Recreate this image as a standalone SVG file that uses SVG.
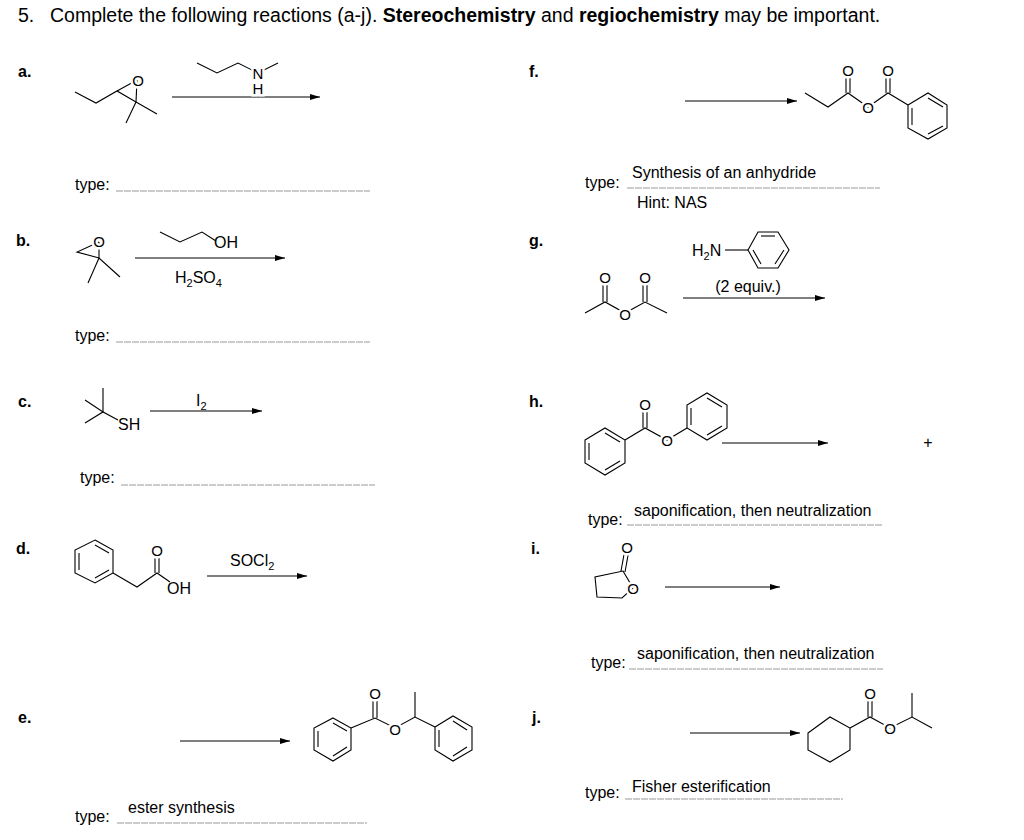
<svg xmlns="http://www.w3.org/2000/svg" width="1024" height="840" viewBox="0 0 1024 840">
<style>
text{font-family:"Liberation Sans",Arial,sans-serif;font-size:16px;fill:#000}
.t{font-size:19.5px}
.lab{font-weight:bold;font-size:16px}
.atom{font-size:15px;text-anchor:middle;dominant-baseline:central;stroke:#fff;stroke-width:5;paint-order:stroke}
.sub{font-size:11px}
.b{stroke:#000;stroke-width:1.1;fill:none}
.u{stroke:#999;stroke-width:1;stroke-dasharray:7 1}
.ar{stroke:#000;stroke-width:1.1;marker-end:url(#ah)}
</style>
<defs><marker id="ah" markerWidth="10" markerHeight="6" refX="10" refY="3" orient="auto" markerUnits="userSpaceOnUse"><path d="M0,0 L10,3 L0,6 z"/></marker></defs>
<rect width="1024" height="840" fill="#fff"/>
<text class="t" x="18" y="22">5.<tspan x="50">Complete the following reactions (a-j). </tspan><tspan font-weight="bold">Stereochemistry</tspan> and <tspan font-weight="bold">regiochemistry</tspan> may be important.</text>
<g id="labels">
<text class="lab" x="18" y="77">a.</text><text class="lab" x="16" y="246">b.</text><text class="lab" x="18" y="407">c.</text><text class="lab" x="16" y="554">d.</text><text class="lab" x="18" y="723">e.</text>
<text class="lab" x="529" y="77">f.</text><text class="lab" x="529" y="246">g.</text><text class="lab" x="529" y="407">h.</text><text class="lab" x="531" y="554">i.</text><text class="lab" x="532" y="723">j.</text>
</g>
<g id="connectors">
<line class="ar" x1="172" y1="97" x2="320" y2="97"/>
<line class="ar" x1="135" y1="258" x2="285" y2="258"/>
<line class="ar" x1="150" y1="411" x2="262" y2="411"/>
<line class="ar" x1="207" y1="576" x2="307" y2="576"/>
<line class="ar" x1="180" y1="741" x2="290" y2="741"/>
<line class="ar" x1="685" y1="101" x2="797" y2="101"/>
<line class="ar" x1="683" y1="298" x2="825" y2="298"/>
<line class="ar" x1="722" y1="443" x2="828" y2="443"/>
<line class="ar" x1="665" y1="587" x2="780" y2="587"/>
<line class="ar" x1="690" y1="733" x2="800" y2="733"/>
</g>
<g id="types">
<text x="75" y="190">type:</text><line class="u" x1="116" y1="191" x2="370" y2="191"/>
<text x="75" y="341">type:</text><line class="u" x1="116" y1="342" x2="370" y2="342"/>
<text x="80" y="483">type:</text><line class="u" x1="121" y1="485" x2="375" y2="485"/>
<text x="75" y="822">type:</text><text x="128" y="813">ester synthesis</text><line class="u" x1="117" y1="823" x2="367" y2="823"/>
<text x="585" y="188">type:</text><text x="632" y="178">Synthesis of an anhydride</text><line class="u" x1="627" y1="188" x2="880" y2="188"/><text x="637" y="208">Hint: NAS</text>
<text x="588" y="525">type:</text><text x="634" y="516">saponification, then neutralization</text><line class="u" x1="627" y1="525" x2="882" y2="525"/>
<text x="591" y="668">type:</text><text x="637" y="659">saponification, then neutralization</text><line class="u" x1="629" y1="669" x2="883" y2="669"/>
<text x="585" y="798">type:</text><text x="632" y="792">Fisher esterification</text><line class="u" x1="625" y1="799" x2="843" y2="799"/>
</g>
<g id="a">
<polyline class="b" points="75,92 96,103 117,91 136,102 157,114"/><line class="b" x1="136" y1="102" x2="126" y2="123"/>
<line class="b" x1="117" y1="91" x2="137" y2="80"/><line class="b" x1="137" y1="80" x2="136" y2="102"/>
<text class="atom" x="138" y="80">O</text>
<polyline class="b" points="197,63 217,73 238,63 258,73 278,63"/>
<text class="atom" x="258" y="73">N</text><text class="atom" x="258" y="88">H</text>
</g>
<g id="b">
<polyline class="b" points="99,242 77,252 99,258 120,277"/><line class="b" x1="99" y1="242" x2="99" y2="258"/><line class="b" x1="99" y1="258" x2="88" y2="283"/>
<text class="atom" x="99" y="241">O</text>
<polyline class="b" points="160,232 180,242 202,232 216,241"/>
<text x="214" y="248">OH</text>
<text x="175" y="283">H<tspan class="sub" dy="4">2</tspan><tspan dy="-4">SO</tspan><tspan class="sub" dy="4">4</tspan></text>
</g>
<g id="c">
<polyline class="b" points="103,388 103,412 85,400"/><polyline class="b" points="85,423 103,412 118,420"/>
<text x="118" y="430">SH</text>
<text x="196" y="406">I<tspan class="sub" dy="4">2</tspan></text>
</g>
<g id="d">
<polygon class="b" points="95,540 113,550 113,573 95,583 75,573 75,550"/>
<polyline class="b" points="95,545 109,553"/><line class="b" x1="109" y1="570" x2="95" y2="578"/><line class="b" x1="79" y1="553" x2="79" y2="570"/>
<polyline class="b" points="113,573 137,587 157,573 170,582"/>
<line class="b" x1="155" y1="573" x2="155" y2="553"/><line class="b" x1="159" y1="573" x2="159" y2="553"/>
<text class="atom" x="157" y="550">O</text>
<text x="167" y="594">OH</text>
<text x="230" y="566">SOCl<tspan class="sub" dy="4">2</tspan></text>
</g>
<g id="e">
<polygon class="b" points="333,718 351,728 351,750 333,761 314,750 314,728"/>
<line class="b" x1="333" y1="723" x2="347" y2="731"/><line class="b" x1="347" y1="747" x2="333" y2="756"/><line class="b" x1="318" y1="731" x2="318" y2="747"/>
<polyline class="b" points="351,728 375,718 395,728 415,717 435,727"/><line class="b" x1="415" y1="717" x2="415" y2="692"/>
<line class="b" x1="373" y1="718" x2="373" y2="698"/><line class="b" x1="377" y1="718" x2="377" y2="698"/>
<text class="atom" x="375" y="693">O</text><text class="atom" x="395" y="729">O</text>
<polygon class="b" points="435,727 453,716 472,727 472,750 453,761 435,750"/>
<line class="b" x1="453" y1="721" x2="467" y2="730"/><line class="b" x1="467" y1="747" x2="453" y2="756"/><line class="b" x1="439" y1="730" x2="439" y2="747"/>
</g>
<g id="f">
<polyline class="b" points="805,93 828,107 848,93 868,107 888,93 908,105"/>
<line class="b" x1="846" y1="93" x2="846" y2="72"/><line class="b" x1="850" y1="93" x2="850" y2="72"/>
<line class="b" x1="886" y1="93" x2="886" y2="72"/><line class="b" x1="890" y1="93" x2="890" y2="72"/>
<text class="atom" x="848" y="70">O</text><text class="atom" x="888" y="70">O</text><text class="atom" x="868" y="107">O</text>
<polygon class="b" points="908,105 928,93 947,105 947,128 928,139 908,128"/>
<line class="b" x1="928" y1="98" x2="943" y2="107"/><line class="b" x1="943" y1="126" x2="928" y2="134"/><line class="b" x1="912" y1="108" x2="912" y2="125"/>
</g>
<g id="g">
<text x="692" y="256">H<tspan class="sub" dy="4">2</tspan><tspan dy="-4">N</tspan></text>
<line class="b" x1="725" y1="250" x2="748" y2="250"/>
<polygon class="b" points="748,250 758,232 778,232 789,250 778,268 758,268"/>
<line class="b" x1="761" y1="236" x2="775" y2="236"/><line class="b" x1="784" y1="250" x2="775" y2="264"/><line class="b" x1="761" y1="264" x2="753" y2="250"/>
<text x="748" y="292" text-anchor="middle">(2 equiv.)</text>
<polyline class="b" points="585,313 605,302 625,313 645,302 667,313"/>
<line class="b" x1="603" y1="302" x2="603" y2="280"/><line class="b" x1="607" y1="302" x2="607" y2="280"/>
<line class="b" x1="643" y1="302" x2="643" y2="280"/><line class="b" x1="647" y1="302" x2="647" y2="280"/>
<text class="atom" x="605" y="277">O</text><text class="atom" x="645" y="277">O</text><text class="atom" x="625" y="314">O</text>
</g>
<g id="h">
<polygon class="b" points="585,440 605,428 625,440 625,463 605,475 585,463"/>
<line class="b" x1="605" y1="433" x2="620" y2="442"/><line class="b" x1="620" y1="461" x2="605" y2="470"/><line class="b" x1="589" y1="443" x2="589" y2="460"/>
<polyline class="b" points="625,440 645,428 667,440 687,428"/>
<line class="b" x1="643" y1="428" x2="643" y2="408"/><line class="b" x1="647" y1="428" x2="647" y2="408"/>
<text class="atom" x="645" y="404">O</text><text class="atom" x="667" y="440">O</text>
<polygon class="b" points="687,428 687,405 707,393 727,405 727,428 707,440"/>
<line class="b" x1="691" y1="408" x2="691" y2="425"/><line class="b" x1="707" y1="398" x2="722" y2="407"/><line class="b" x1="722" y1="426" x2="707" y2="435"/>
<text x="928" y="448" text-anchor="middle">+</text>
</g>
<g id="i">
<polygon class="b" points="623,571 633,588 622,598 597,597 595,577"/>
<line class="b" x1="621" y1="571" x2="625" y2="549"/><line class="b" x1="625" y1="572" x2="629" y2="550"/>
<text class="atom" x="627" y="547">O</text><text class="atom" x="633" y="588">O</text>
</g>
<g id="j">
<polygon class="b" points="808,733 830,717 850,728 850,750 830,762 808,750"/>
<polyline class="b" points="850,728 870,717 890,728 912,717 932,728"/><line class="b" x1="912" y1="717" x2="912" y2="693"/>
<line class="b" x1="868" y1="717" x2="868" y2="697"/><line class="b" x1="872" y1="717" x2="872" y2="697"/>
<text class="atom" x="870" y="693">O</text><text class="atom" x="890" y="728">O</text>
</g>
</svg>
